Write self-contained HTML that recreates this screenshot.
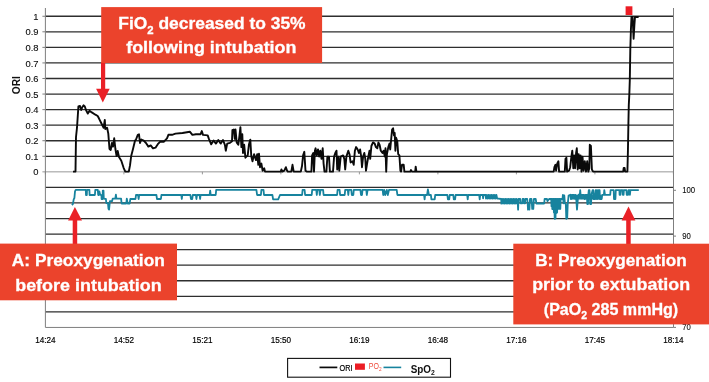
<!DOCTYPE html>
<html lang="en">
<head>
<meta charset="utf-8">
<title>ORI and SpO2 trend</title>
<style>
html,body{margin:0;padding:0;background:#fff;}
body{width:709px;height:382px;overflow:hidden;font-family:"Liberation Sans",sans-serif;}
svg{display:block;filter:blur(0.35px);}
.ax{font-family:"Liberation Sans",sans-serif;font-size:9.4px;fill:#0a0a0a;stroke:#0a0a0a;stroke-width:0.1px;}
.axx{font-family:"Liberation Sans",sans-serif;font-size:9.8px;fill:#000;stroke:#000;stroke-width:0.2px;}
.lab{font-family:"Liberation Sans",sans-serif;font-weight:bold;font-size:16.9px;fill:#fff;stroke:#fff;stroke-width:0.3px;}
.sub{font-family:"Liberation Sans",sans-serif;font-weight:bold;font-size:11px;fill:#fff;stroke:#fff;stroke-width:0.3px;}
</style>
</head>
<body>
<svg width="709" height="382" viewBox="0 0 709 382">
<rect x="0" y="0" width="709" height="382" fill="#ffffff"/>
<!-- grid -->
<g shape-rendering="auto">
<line x1="45.4" y1="16.25" x2="673.5" y2="16.25" stroke="#2e2e2e" stroke-width="1.3"/>
<line x1="45.4" y1="31.81" x2="673.5" y2="31.81" stroke="#2e2e2e" stroke-width="1.3"/>
<line x1="45.4" y1="47.37" x2="673.5" y2="47.37" stroke="#2e2e2e" stroke-width="1.3"/>
<line x1="45.4" y1="62.93" x2="673.5" y2="62.93" stroke="#2e2e2e" stroke-width="1.3"/>
<line x1="45.4" y1="78.49" x2="673.5" y2="78.49" stroke="#2e2e2e" stroke-width="1.3"/>
<line x1="45.4" y1="94.05" x2="673.5" y2="94.05" stroke="#2e2e2e" stroke-width="1.3"/>
<line x1="45.4" y1="109.61" x2="673.5" y2="109.61" stroke="#2e2e2e" stroke-width="1.3"/>
<line x1="45.4" y1="125.17" x2="673.5" y2="125.17" stroke="#2e2e2e" stroke-width="1.3"/>
<line x1="45.4" y1="140.73" x2="673.5" y2="140.73" stroke="#2e2e2e" stroke-width="1.3"/>
<line x1="45.4" y1="156.29" x2="673.5" y2="156.29" stroke="#2e2e2e" stroke-width="1.3"/>
<line x1="42.4" y1="171.85" x2="673.5" y2="171.85" stroke="#8c8c8c" stroke-width="0.9"/>
<line x1="45.4" y1="187.41" x2="673.5" y2="187.41" stroke="#2e2e2e" stroke-width="1.3"/>
<line x1="45.4" y1="202.97" x2="673.5" y2="202.97" stroke="#2e2e2e" stroke-width="1.3"/>
<line x1="45.4" y1="218.53" x2="673.5" y2="218.53" stroke="#2e2e2e" stroke-width="1.3"/>
<line x1="45.4" y1="234.09" x2="673.5" y2="234.09" stroke="#2e2e2e" stroke-width="1.3"/>
<line x1="45.4" y1="249.65" x2="673.5" y2="249.65" stroke="#2e2e2e" stroke-width="1.3"/>
<line x1="45.4" y1="265.21" x2="673.5" y2="265.21" stroke="#2e2e2e" stroke-width="1.3"/>
<line x1="45.4" y1="280.77" x2="673.5" y2="280.77" stroke="#2e2e2e" stroke-width="1.3"/>
<line x1="45.4" y1="296.33" x2="673.5" y2="296.33" stroke="#2e2e2e" stroke-width="1.3"/>
<line x1="45.4" y1="311.89" x2="673.5" y2="311.89" stroke="#2e2e2e" stroke-width="1.3"/>
<line x1="45.4" y1="327.45" x2="673.5" y2="327.45" stroke="#7f7f7f" stroke-width="1"/>
<line x1="42.4" y1="16.25" x2="45.4" y2="16.25" stroke="#7f7f7f" stroke-width="1"/>
<line x1="42.4" y1="31.81" x2="45.4" y2="31.81" stroke="#7f7f7f" stroke-width="1"/>
<line x1="42.4" y1="47.37" x2="45.4" y2="47.37" stroke="#7f7f7f" stroke-width="1"/>
<line x1="42.4" y1="62.93" x2="45.4" y2="62.93" stroke="#7f7f7f" stroke-width="1"/>
<line x1="42.4" y1="78.49" x2="45.4" y2="78.49" stroke="#7f7f7f" stroke-width="1"/>
<line x1="42.4" y1="94.05" x2="45.4" y2="94.05" stroke="#7f7f7f" stroke-width="1"/>
<line x1="42.4" y1="109.61" x2="45.4" y2="109.61" stroke="#7f7f7f" stroke-width="1"/>
<line x1="42.4" y1="125.17" x2="45.4" y2="125.17" stroke="#7f7f7f" stroke-width="1"/>
<line x1="42.4" y1="140.73" x2="45.4" y2="140.73" stroke="#7f7f7f" stroke-width="1"/>
<line x1="42.4" y1="156.29" x2="45.4" y2="156.29" stroke="#7f7f7f" stroke-width="1"/>
<line x1="45.4" y1="171.85" x2="45.4" y2="174.35" stroke="#8c8c8c" stroke-width="0.9"/>
<line x1="123.9" y1="171.85" x2="123.9" y2="174.35" stroke="#8c8c8c" stroke-width="0.9"/>
<line x1="202.4" y1="171.85" x2="202.4" y2="174.35" stroke="#8c8c8c" stroke-width="0.9"/>
<line x1="280.9" y1="171.85" x2="280.9" y2="174.35" stroke="#8c8c8c" stroke-width="0.9"/>
<line x1="359.4" y1="171.85" x2="359.4" y2="174.35" stroke="#8c8c8c" stroke-width="0.9"/>
<line x1="437.9" y1="171.85" x2="437.9" y2="174.35" stroke="#8c8c8c" stroke-width="0.9"/>
<line x1="516.4" y1="171.85" x2="516.4" y2="174.35" stroke="#8c8c8c" stroke-width="0.9"/>
<line x1="594.9" y1="171.85" x2="594.9" y2="174.35" stroke="#8c8c8c" stroke-width="0.9"/>
<line x1="673.4" y1="171.85" x2="673.4" y2="174.35" stroke="#8c8c8c" stroke-width="0.9"/>
<line x1="673.5" y1="190.3" x2="676.0" y2="190.3" stroke="#7f7f7f" stroke-width="1"/>
<line x1="673.5" y1="236.1" x2="676.0" y2="236.1" stroke="#7f7f7f" stroke-width="1"/>
<line x1="673.5" y1="281.9" x2="676.0" y2="281.9" stroke="#7f7f7f" stroke-width="1"/>
<line x1="673.5" y1="327.4" x2="676.0" y2="327.4" stroke="#7f7f7f" stroke-width="1"/>
<line x1="45.4" y1="8" x2="45.4" y2="327.4" stroke="#7f7f7f" stroke-width="1"/>
<line x1="673.5" y1="8" x2="673.5" y2="327.4" stroke="#7f7f7f" stroke-width="1"/>
</g>
<!-- axis labels -->
<text x="38.5" y="19.9" text-anchor="end" class="ax">1</text>
<text x="38.5" y="35.4" text-anchor="end" class="ax">0.9</text>
<text x="38.5" y="51.0" text-anchor="end" class="ax">0.8</text>
<text x="38.5" y="66.5" text-anchor="end" class="ax">0.7</text>
<text x="38.5" y="82.1" text-anchor="end" class="ax">0.6</text>
<text x="38.5" y="97.6" text-anchor="end" class="ax">0.5</text>
<text x="38.5" y="113.2" text-anchor="end" class="ax">0.4</text>
<text x="38.5" y="128.8" text-anchor="end" class="ax">0.3</text>
<text x="38.5" y="144.3" text-anchor="end" class="ax">0.2</text>
<text x="38.5" y="159.9" text-anchor="end" class="ax">0.1</text>
<text x="38.5" y="175.4" text-anchor="end" class="ax">0</text>
<text x="45.4" y="343.3" text-anchor="middle" class="axx" textLength="20.4" lengthAdjust="spacingAndGlyphs">14:24</text>
<text x="123.9" y="343.3" text-anchor="middle" class="axx" textLength="20.4" lengthAdjust="spacingAndGlyphs">14:52</text>
<text x="202.4" y="343.3" text-anchor="middle" class="axx" textLength="20.4" lengthAdjust="spacingAndGlyphs">15:21</text>
<text x="280.9" y="343.3" text-anchor="middle" class="axx" textLength="20.4" lengthAdjust="spacingAndGlyphs">15:50</text>
<text x="359.4" y="343.3" text-anchor="middle" class="axx" textLength="20.4" lengthAdjust="spacingAndGlyphs">16:19</text>
<text x="437.9" y="343.3" text-anchor="middle" class="axx" textLength="20.4" lengthAdjust="spacingAndGlyphs">16:48</text>
<text x="516.4" y="343.3" text-anchor="middle" class="axx" textLength="20.4" lengthAdjust="spacingAndGlyphs">17:16</text>
<text x="594.9" y="343.3" text-anchor="middle" class="axx" textLength="20.4" lengthAdjust="spacingAndGlyphs">17:45</text>
<text x="673.4" y="343.3" text-anchor="middle" class="axx" textLength="20.4" lengthAdjust="spacingAndGlyphs">18:14</text>
<text x="682.2" y="193.0" class="ax" textLength="13" lengthAdjust="spacingAndGlyphs">100</text>
<text x="682.2" y="239.2" class="ax" textLength="8.6" lengthAdjust="spacingAndGlyphs">90</text>
<text x="682.2" y="285.0" class="ax" textLength="8.6" lengthAdjust="spacingAndGlyphs">80</text>
<text x="682.2" y="330.0" class="ax" textLength="8.6" lengthAdjust="spacingAndGlyphs">70</text>
<text transform="translate(19.6 85.2) rotate(-90)" text-anchor="middle" style="font-family:'Liberation Sans',sans-serif;font-weight:bold;font-size:10.2px;fill:#111">ORI</text>
<!-- data -->
<path d="M71.8 204.9 L72.9 204.1 L73.7 199.4 L74.4 198.0 L75.0 191.3 L75.7 189.9 L85.8 189.9 L86.0 195.0 L86.8 195.0 L87.0 189.9 L89.4 189.9 L89.6 195.0 L94.9 195.0 L95.3 189.9 L97.8 189.9 L98.2 195.0 L99.0 195.0 L99.3 191.3 L100.0 194.3 L101.5 195.5 L101.6 199.0 L102.6 199.0 L102.8 190.6 L103.5 190.6 L103.8 198.7 L105.9 199.0 L106.3 203.0 L108.0 203.4 L108.5 208.9 L109.1 209.5 L109.9 201.2 L112.0 201.2 L112.7 198.7 L115.3 198.7 L115.9 194.6 L116.4 198.7 L121.1 198.7 L121.6 203.5 L126.3 203.5 L126.8 198.7 L127.7 203.5 L129.7 203.5 L130.3 199.0 L135.5 199.0 L136.0 195.0 L138.1 195.0 L138.6 199.0 L139.2 195.0 L156.4 195.0 L157.0 199.0 L160.9 199.0 L161.4 195.0 L181.3 195.0 L181.8 199.0 L182.3 195.0 L190.4 195.0 L190.9 199.0 L192.2 199.0 L192.8 195.0 L195.9 195.0 L196.4 199.0 L197.0 195.0 L199.6 195.0 L200.1 199.0 L200.6 195.0 L209.6 195.0 L210.2 190.7 L210.7 195.0 L215.7 195.0 L216.2 189.9 L256.4 189.9 L257.1 195.0 L260.9 195.0 L261.4 189.9 L263.5 189.9 L264.0 195.0 L272.4 195.0 L273.1 199.4 L278.2 199.4 L280.0 195.0 L302.1 195.0 L302.6 189.9 L304.6 189.9 L305.1 195.0 L311.7 195.0 L312.2 189.9 L316.3 189.9 L316.8 195.0 L317.3 189.9 L319.3 189.9 L319.8 195.0 L320.6 189.9 L323.1 189.9 L323.6 195.0 L337.1 195.0 L337.6 189.9 L339.6 189.9 L340.1 195.0 L344.7 195.0 L345.2 189.9 L347.8 189.9 L348.3 195.0 L348.8 189.9 L351.3 189.9 L351.8 195.0 L353.3 195.0 L353.8 189.9 L360.4 189.9 L361.0 195.0 L362.0 195.0 L362.5 189.9 L366.3 189.9 L366.8 195.0 L367.6 189.9 L382.7 189.9 L383.2 195.0 L384.2 189.9 L385.2 195.0 L386.8 189.9 L387.8 195.0 L389.0 189.9 L396.7 189.9 L397.4 195.0 L424.1 195.0 L424.6 199.4 L425.1 195.0 L427.1 195.0 L427.9 189.4 L428.9 195.0 L430.9 195.0 L431.4 199.4 L434.7 199.4 L435.2 195.0 L447.4 195.0 L447.9 199.4 L449.2 199.4 L449.7 195.0 L453.3 195.0 L453.8 199.4 L455.1 199.4 L455.6 195.0 L467.2 195.0 L467.7 199.4 L468.2 195.0 L479.2 195.0 L479.7 199.4 L480.2 195.0 L482.8 195.0 L483.1 198.3 L483.4 195.0 L485.6 195.0 L486.0 198.6 L486.8 195.0 L487.6 198.6 L488.4 195.0 L489.2 198.6 L490.0 195.0 L490.8 198.6 L491.6 195.0 L492.4 198.6 L493.2 195.0 L494.0 198.6 L494.8 195.0 L495.6 198.6 L496.4 195.0 L497.2 198.6 L498.3 198.6 L501.2 199.0 L501.4 203.6 L502.2 199.0 L503.0 203.6 L503.8 199.0 L504.6 203.6 L505.4 199.0 L506.2 203.6 L507.0 199.0 L507.8 203.6 L508.6 199.0 L509.4 203.6 L510.2 199.0 L511.0 203.6 L511.8 199.0 L512.6 203.6 L513.4 199.0 L514.2 203.6 L515.0 199.0 L515.8 203.6 L516.6 199.0 L517.4 203.6 L517.8 204.0 L518.1 209.6 L518.5 199.0 L520.2 199.0 L520.6 203.3 L522.3 203.3 L522.6 199.0 L523.7 199.0 L524.0 203.3 L525.1 203.3 L525.4 199.0 L527.2 199.0 L527.7 204.0 L528.0 209.6 L528.7 204.0 L529.4 209.6 L530.0 199.0 L531.5 199.0 L531.9 204.0 L532.2 208.9 L533.3 208.9 L533.9 199.0 L535.7 199.0 L536.4 203.5 L544.2 203.5 L544.6 199.0 L547.0 199.0 L547.4 201.2 L549.1 199.0 L551.2 199.0 L551.5 206.1 L551.9 199.0 L552.3 209.0 L552.7 199.0 L553.1 209.2 L553.5 199.0 L553.9 212.4 L554.3 199.0 L554.7 218.8 L555.1 199.0 L555.5 218.5 L555.9 199.0 L556.3 213.0 L556.7 199.0 L557.1 212.5 L557.5 199.0 L557.9 208.9 L558.3 199.0 L558.7 208.9 L559.1 199.0 L559.5 208.9 L559.9 199.0 L560.3 208.9 L560.7 199.0 L560.7 199.0 L562.5 199.0 L562.9 194.8 L563.5 203.3 L564.3 195.5 L564.9 203.3 L565.8 204.0 L566.3 218.8 L567.2 218.0 L567.7 204.7 L568.6 195.5 L570.3 194.8 L571.0 199.0 L571.7 194.8 L574.2 194.8 L574.9 198.5 L575.6 194.8 L576.3 200.0 L577.0 209.6 L577.8 199.7 L578.5 194.8 L579.9 194.1 L580.2 190.2 L580.6 194.8 L584.1 194.8 L584.8 199.0 L585.5 194.8 L586.9 194.8 L587.3 204.0 L588.0 204.0 L588.3 194.8 L588.8 190.2 L589.5 190.2 L589.8 194.8 L590.2 204.0 L591.1 204.0 L591.4 194.8 L592.6 190.2 L593.3 190.2 L593.7 199.0 L594.7 199.0 L595.1 194.8 L595.7 190.2 L596.2 199.0 L597.1 190.2 L597.8 199.0 L598.6 190.2 L599.6 190.2 L600.0 199.0 L601.7 199.0 L602.2 194.8 L603.9 194.8 L604.3 190.2 L605.0 194.8 L610.2 194.8 L610.6 190.2 L613.7 190.2 L614.0 199.0 L615.4 199.0 L615.8 190.2 L619.4 190.2 L619.6 194.8 L620.5 194.8 L620.8 190.2 L622.5 190.2 L622.9 194.8 L623.6 194.8 L623.9 190.2 L626.4 190.2 L626.7 194.8 L628.1 194.8 L628.5 190.2 L629.5 190.2 L629.9 194.8 L630.4 190.2 L638.8 190.2" fill="none" stroke="#17839e" stroke-width="1.8" stroke-linejoin="round" stroke-linecap="butt"/>
<path d="M570.4 194.9 L570.9 199.3 L571.3 194.9 L571.8 199.3 L572.2 194.9 L572.6 199.3 L573.1 194.9 L573.5 199.3 L574.0 194.9 L574.5 199.3 L574.9 194.9 L575.4 199.3 L575.8 194.9 L576.2 199.3 L576.7 194.9 L577.1 199.3 L577.6 194.9 L578.0 199.3 L578.5 194.9 L579.0 199.3 L579.4 194.9 L579.9 199.3 L580.3 194.9 L580.8 199.3 L581.2 194.9 L581.6 199.3 L582.1 194.9 L582.5 199.3 L583.0 194.9 L583.5 199.3 L583.9 194.9 L584.4 199.3 L584.8 194.9 L585.2 199.3 L585.7 194.9 L586.1 199.3 L586.6 194.9 L587.0 199.3 L587.5 194.9 L588.0 199.3 L588.4 194.9 L588.9 199.3 L589.3 194.9 L589.8 199.3 L590.2 194.9 L590.6 199.3 L591.1 194.9 L591.5 199.3 L592.0 194.9 L592.5 199.3 L592.9 194.9 L593.4 199.3 L593.8 194.9 L594.2 199.3 L594.7 194.9 L595.1 199.3 L595.6 194.9 L596.0 199.3 L596.5 194.9 L597.0 199.3 L597.4 194.9 L597.9 199.3 L598.3 194.9 L598.8 199.3 L599.2 194.9 L599.6 199.3 L600.1 194.9 L600.5 199.3 L601.0 194.9 L601.5 199.3" fill="none" stroke="#17839e" stroke-width="1" stroke-linejoin="round" stroke-linecap="butt"/>
<path d="M73.0 171.6 L75.5 171.6 L75.8 150.0 L76.0 137.0 L77.0 127.7 L78.4 106.5 L80.0 106.0 L81.2 110.0 L82.4 107.0 L83.6 105.3 L84.8 106.5 L86.0 110.0 L87.8 113.6 L89.5 110.7 L91.8 112.4 L95.4 114.7 L97.7 116.0 L98.9 118.3 L101.2 123.0 L103.6 127.7 L104.8 120.0 L105.3 129.0 L107.1 127.7 L108.3 133.6 L109.5 149.0 L110.7 150.0 L111.9 143.0 L113.0 146.6 L114.2 138.3 L115.4 149.0 L116.6 156.0 L117.7 151.0 L119.0 157.0 L121.3 160.7 L123.6 167.8 L125.3 171.6 L128.8 171.6 L130.0 165.4 L131.2 156.0 L133.0 149.0 L135.0 140.7 L136.0 139.5 L137.8 134.8 L139.0 134.3 L140.0 143.0 L141.3 139.5 L143.7 140.7 L146.0 143.0 L148.4 146.6 L150.7 145.4 L153.0 148.4 L155.5 147.7 L157.8 144.2 L160.0 141.8 L163.7 141.8 L167.0 138.3 L168.4 134.8 L172.0 134.8 L175.5 133.6 L182.5 133.0 L188.4 132.0 L190.0 131.8 L192.4 134.9 L195.9 134.2 L200.6 134.2 L201.8 131.1 L203.0 134.9 L207.7 135.4 L208.9 138.9 L211.2 144.3 L213.6 140.5 L215.9 143.6 L218.3 140.0 L220.6 143.6 L223.0 140.0 L224.9 144.8 L225.8 150.7 L227.2 143.6 L230.0 142.9 L232.0 141.2 L232.4 130.2 L233.8 129.5 L234.8 138.9 L235.5 129.5 L236.7 142.4 L238.3 144.8 L239.5 135.4 L240.4 127.1 L241.4 147.1 L242.3 134.2 L243.0 153.0 L244.2 144.8 L245.4 157.7 L247.7 155.4 L248.9 144.8 L250.3 139.6 L251.3 156.6 L252.5 161.3 L254.1 154.2 L256.0 160.1 L257.2 154.2 L258.3 164.8 L259.0 153.7 L260.0 167.2 L261.4 163.6 L262.6 170.7 L264.2 168.3 L265.0 171.6 L280.7 171.6 L281.4 169.5 L282.4 171.6 L284.3 170.7 L285.9 167.2 L287.1 170.7 L287.8 171.6 L291.3 171.6 L292.5 164.8 L293.7 171.6 L300.8 171.6 L302.0 166.0 L303.1 155.4 L304.3 151.8 L305.5 170.7 L306.7 171.6 L311.4 171.6 L312.1 155.4 L313.3 153.0 L314.0 171.6 L314.9 150.7 L315.6 148.3 L316.8 155.4 L318.0 149.5 L319.2 156.6 L320.3 150.7 L321.5 158.9 L322.7 148.3 L323.6 163.6 L324.5 171.6 L326.4 171.6 L327.4 156.6 L329.0 156.6 L329.9 171.6 L333.0 171.6 L334.1 156.6 L335.3 153.0 L336.5 150.7 L337.2 169.5 L338.4 156.6 L339.3 170.7 L340.7 156.6 L343.1 155.4 L344.3 158.9 L345.2 169.5 L346.4 156.6 L348.3 150.7 L349.5 154.2 L350.6 162.5 L352.5 161.3 L353.7 164.8 L354.9 150.7 L356.1 147.1 L357.7 149.5 L358.9 153.0 L360.1 149.5 L361.2 156.6 L362.0 167.2 L363.1 156.6 L364.3 153.0 L365.3 158.9 L366.0 170.7 L367.1 163.6 L368.3 156.6 L369.5 150.7 L370.2 158.9 L371.4 146.0 L373.0 142.4 L374.7 143.6 L375.9 147.1 L377.3 148.3 L378.4 142.4 L379.6 144.8 L380.8 150.7 L382.5 153.0 L383.6 150.7 L384.8 156.6 L385.5 148.3 L386.2 171.6 L386.9 154.2 L388.3 147.1 L389.5 143.6 L390.2 149.5 L391.2 138.9 L392.1 129.5 L393.1 128.3 L394.0 135.4 L394.7 133.0 L395.4 150.7 L396.1 137.7 L397.3 141.2 L398.2 154.2 L399.4 155.4 L400.4 170.7 L401.1 171.6 L402.0 164.8 L403.7 164.8 L404.4 171.6 L410.3 171.6 L411.0 170.0 L411.9 171.6 L415.2 171.6 L415.7 166.7 L416.4 171.6 L553.7 171.6 L554.4 167.2 L555.4 164.8 L556.1 170.7 L557.2 163.6 L558.4 161.3 L559.1 171.6 L564.8 171.6 L565.5 158.9 L566.4 157.7 L567.1 171.6 L569.0 170.7 L570.2 167.2 L571.4 156.6 L572.3 150.7 L573.3 168.3 L574.2 155.4 L575.1 168.3 L576.1 153.0 L576.8 148.3 L577.7 169.5 L578.7 154.2 L579.6 168.3 L580.6 155.4 L581.5 171.6 L582.5 156.6 L583.6 170.7 L584.8 161.3 L586.0 171.6 L587.2 161.3 L588.3 171.6 L589.3 168.3 L589.8 144.8 L590.9 146.0 L591.9 169.5 L593.1 171.6 L623.2 171.6 L623.7 167.9 L624.6 167.9 L625.1 171.6 L627.4 171.6 L627.9 151.9 L628.4 123.6 L628.8 104.7 L629.3 95.0 L629.8 80.0 L630.3 50.0 L630.9 30.0 L631.5 17.0 L632.6 17.0 L633.6 38.7 L634.4 25.0 L635.0 17.0 L638.6 17.0" fill="none" stroke="#0a0a0a" stroke-width="1.9" stroke-linejoin="round" stroke-linecap="butt"/>
<rect x="625.6" y="6.3" width="6.8" height="8.7" fill="#ec1c24"/>
<!-- callout top -->
<rect x="101" y="62" width="4.2" height="28" fill="#ea2127"/>
<polygon points="96.1,88.7 109.7,88.7 102.8,102.4" fill="#ea2127"/>
<rect x="101.2" y="7.1" width="220.9" height="55.9" fill="#eb432c"/>
<text class="lab" x="118.3" y="29.1" textLength="187.3" lengthAdjust="spacingAndGlyphs">FiO<tspan class="sub" dy="4.5">2</tspan><tspan dy="-4.5"> decreased to 35%</tspan></text>
<text class="lab" x="126.2" y="53.1" textLength="170.3" lengthAdjust="spacingAndGlyphs">following intubation</text>
<!-- callout A -->
<rect x="72.7" y="219" width="4.5" height="26" fill="#ea2127"/>
<polygon points="68.1,220.4 82,220.4 74.9,207" fill="#ea2127"/>
<rect x="0" y="243.6" width="177" height="56.7" fill="#eb432c"/>
<text class="lab" x="11.8" y="266.4" textLength="153" lengthAdjust="spacingAndGlyphs">A: Preoxygenation</text>
<text class="lab" x="15.2" y="290.7" textLength="146.5" lengthAdjust="spacingAndGlyphs">before intubation</text>
<!-- callout B -->
<rect x="626.2" y="219" width="4.5" height="26" fill="#ea2127"/>
<polygon points="621.6,220.4 635.4,220.4 628.5,206.5" fill="#ea2127"/>
<rect x="513.3" y="243.7" width="196" height="80.7" fill="#eb432c"/>
<text class="lab" x="535.2" y="266.2" textLength="151.6" lengthAdjust="spacingAndGlyphs">B: Preoxygenation</text>
<text class="lab" x="532.2" y="290.4" textLength="158" lengthAdjust="spacingAndGlyphs">prior to extubation</text>
<text class="lab" x="543.8" y="314.6" textLength="134.4" lengthAdjust="spacingAndGlyphs">(PaO<tspan class="sub" dy="4.5">2</tspan><tspan dy="-4.5"> 285 mmHg)</tspan></text>
<!-- legend -->
<rect x="287.6" y="358.4" width="162.9" height="18.8" fill="#fff" stroke="#111" stroke-width="1.1"/>
<line x1="319.5" y1="367.4" x2="337.3" y2="367.4" stroke="#0a0a0a" stroke-width="1.7"/>
<text x="339.6" y="370.9" class="axx" textLength="12.9" lengthAdjust="spacingAndGlyphs">ORI</text>
<rect x="355" y="363.5" width="9.9" height="6.3" fill="#ec1c24"/>
<text x="368.8" y="368.8" style="font-family:'Liberation Sans',sans-serif;font-size:8.2px;fill:#ee4a3a" textLength="12.8" lengthAdjust="spacingAndGlyphs">PO<tspan font-size="5.5" dy="1.8">2</tspan></text>
<line x1="383.5" y1="367.4" x2="401.2" y2="367.4" stroke="#17839e" stroke-width="1.6"/>
<text x="410.7" y="372.7" style="font-family:'Liberation Sans',sans-serif;font-weight:bold;font-size:10.2px;fill:#111" textLength="24.2" lengthAdjust="spacingAndGlyphs">SpO<tspan font-size="7" dy="2">2</tspan></text>
</svg>
</body>
</html>
